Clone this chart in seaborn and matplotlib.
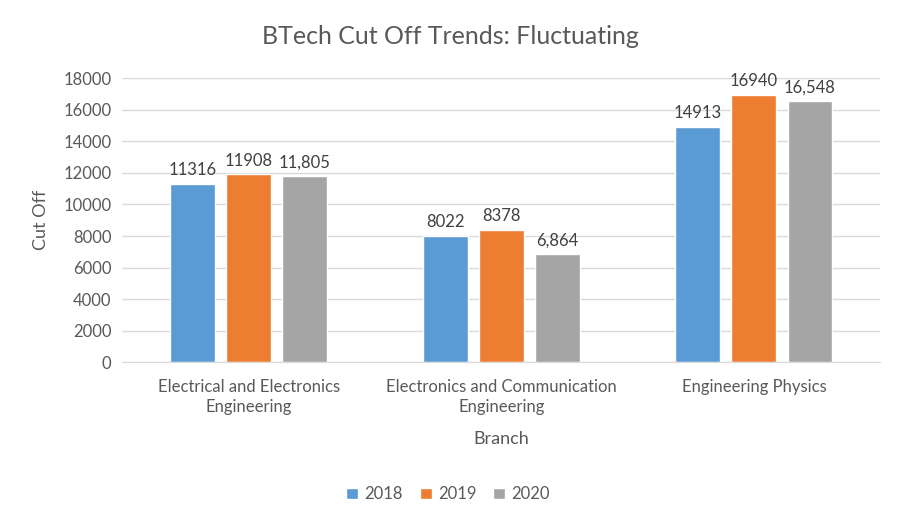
import numpy as np
import matplotlib.pyplot as plt
import pandas as pd
import seaborn as sns

branches = ['Electrical and Electronics\nEngineering',
            'Electronics and Communication\nEngineering',
            'Engineering Physics']
years = ['2018', '2019', '2020']
cut_2018 = [11316, 8022, 14913]
cut_2019 = [11908, 8378, 16940]
cut_2020 = [11805, 6864, 16548]
labels_2018 = ['11316', '8022', '14913']
labels_2019 = ['11908', '8378', '16940']
labels_2020 = ['11,805', '6,864', '16,548']
yticks = [0, 2000, 4000, 6000, 8000, 10000, 12000, 14000, 16000, 18000]

colors = ['#5B9BD5', '#ED7D31', '#A5A5A5']
text_col = '#595959'

dframe = pd.DataFrame({
    'Branch': branches * 3,
    'Year': [y for y in years for _ in branches],
    'Cut Off': cut_2018 + cut_2019 + cut_2020,
})

sns.set_style('white')
plt.rcParams['font.family'] = ['Lato', 'DejaVu Sans']

fig = plt.figure(figsize=(9, 5.25), dpi=100)
ax = fig.add_axes([0.136, 0.310, 0.842, 0.541])

sns.barplot(data=dframe, x='Branch', y='Cut Off', hue='Year',
            palette=colors, width=0.666, gap=0.2, saturation=1,
            ax=ax, legend=True)

for cont, labs in zip(ax.containers, [labels_2018, labels_2019, labels_2020]):
    ax.bar_label(cont, labels=labs, padding=4, fontsize=12, color='#404040')

ax.set_xlim(-0.5, 2.5)
ax.set_ylim(0, 18000)
ax.set_yticks(yticks)
ax.yaxis.grid(True, color='#D9D9D9', linewidth=1)
ax.set_axisbelow(True)
for s in ['top', 'right', 'left']:
    ax.spines[s].set_visible(False)
ax.spines['bottom'].set_color('#D9D9D9')
ax.tick_params(axis='both', length=0, labelsize=12, labelcolor=text_col, pad=8)
ax.tick_params(axis='x', pad=12)
for t in ax.get_xticklabels():
    t.set_linespacing(1.35)

ax.set_xlabel('Branch', fontsize=13, color=text_col, labelpad=11)
ax.set_ylabel('Cut Off', fontsize=13, color=text_col, labelpad=10)
fig.text(0.5, 0.93, 'BTech Cut Off Trends: Fluctuating', ha='center',
         va='center', fontsize=18, color=text_col)

ax.legend(loc='center', bbox_to_anchor=(0.43, -0.465), ncol=3,
          frameon=False, fontsize=12, handlelength=0.7, handleheight=0.7,
          columnspacing=1.0, handletextpad=0.4, labelcolor=text_col)

plt.savefig('out.png', dpi=100)
plt.close()
